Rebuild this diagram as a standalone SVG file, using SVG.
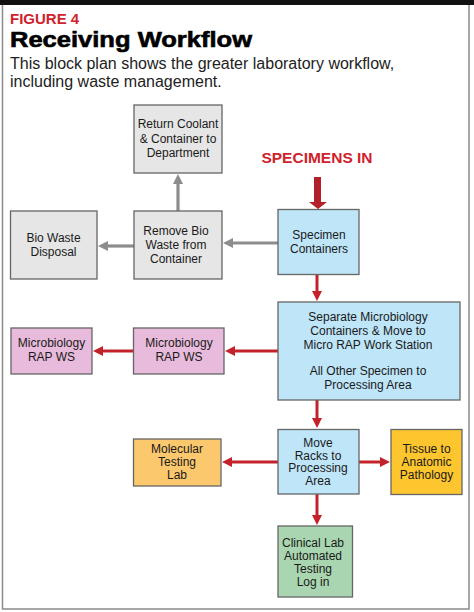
<svg xmlns="http://www.w3.org/2000/svg" width="474" height="612" viewBox="0 0 474 612">
<style>
.box{stroke:#666;stroke-width:1.3}
.gray{fill:#e6e6e6}
.blue{fill:#bee5f8}
.pink{fill:#e8badb}
.orange{fill:#fbc86e}
.yellow{fill:#fdc62e}
.green{fill:#a9d6b0}
.t{font-family:"Liberation Sans",Arial,sans-serif;font-size:12px;fill:#1a1a1a;text-anchor:middle}
.red{stroke:#c4222b;stroke-width:3;fill:none}
.gr{stroke:#8d8d8d;stroke-width:3.2;fill:none}
</style>
<defs>
<marker id="rh" viewBox="0 0 10 10" refX="1" refY="5" markerUnits="userSpaceOnUse" markerWidth="10" markerHeight="11" orient="auto">
<path d="M0,0 L10,5 L0,10 z" fill="#c4222b"/>
</marker>
<marker id="gh" viewBox="0 0 10 10" refX="1" refY="5" markerUnits="userSpaceOnUse" markerWidth="10" markerHeight="11" orient="auto">
<path d="M0,0 L10,5 L0,10 z" fill="#8d8d8d"/>
</marker>
</defs>
<rect x="0" y="0" width="474" height="612" fill="#fff"/>
<rect x="2.5" y="3" width="466.5" height="606" fill="none" stroke="#8a8a8a" stroke-width="1.5"/>
<rect x="0" y="0" width="474" height="5" fill="#111"/>
<text x="10" y="24" font-family="'Liberation Sans',Arial,sans-serif" font-weight="bold" font-size="15" fill="#d0222c">FIGURE 4</text>
<text x="10" y="47" font-family="'Liberation Sans',Arial,sans-serif" font-weight="bold" font-size="21.5" fill="#000" stroke="#000" stroke-width="0.6" textLength="242" lengthAdjust="spacingAndGlyphs">Receiving Workflow</text>
<text x="10" y="69" font-family="'Liberation Sans',Arial,sans-serif" font-size="16" fill="#222">This block plan shows the greater laboratory workflow,</text>
<text x="10" y="87" font-family="'Liberation Sans',Arial,sans-serif" font-size="16" fill="#222">including waste management.</text>
<text x="317" y="163" font-family="'Liberation Sans',Arial,sans-serif" font-weight="bold" font-size="15.5" fill="#d0222c" text-anchor="middle">SPECIMENS IN</text>

<g id="connectors">
<path d="M314,177 H321 V202 H327 L318,209 L309,202 H314 Z" fill="#b3202a"/>
<line class="gr" x1="178" y1="211" x2="178" y2="183" marker-end="url(#gh)"/>
<line class="gr" x1="278" y1="243" x2="232" y2="243" marker-end="url(#gh)"/>
<line class="gr" x1="134" y1="246" x2="107" y2="246" marker-end="url(#gh)"/>
<line class="red" x1="317" y1="274" x2="317" y2="292" marker-end="url(#rh)"/>
<line class="red" x1="278" y1="351" x2="234" y2="351" marker-end="url(#rh)"/>
<line class="red" x1="133" y1="351" x2="102" y2="351" marker-end="url(#rh)"/>
<line class="red" x1="317" y1="400" x2="317" y2="419" marker-end="url(#rh)"/>
<line class="red" x1="278" y1="462" x2="231" y2="462" marker-end="url(#rh)"/>
<line class="red" x1="359" y1="462" x2="381" y2="462" marker-end="url(#rh)"/>
<line class="red" x1="317" y1="494" x2="317" y2="516" marker-end="url(#rh)"/>
</g>

<g id="return-coolant">
<rect class="box gray" x="134" y="105" width="88" height="68"/>
<text class="t" x="178" y="128">Return Coolant</text>
<text class="t" x="178" y="142.5">&amp; Container to</text>
<text class="t" x="178" y="157">Department</text>
</g>
<g id="bio-waste-disposal">
<rect class="box gray" x="10.5" y="211" width="86.5" height="68"/>
<text class="t" x="53.5" y="242">Bio Waste</text>
<text class="t" x="53.5" y="256">Disposal</text>
</g>
<g id="remove-bio-waste">
<rect class="box gray" x="134" y="211" width="88" height="68"/>
<text class="t" x="176" y="235">Remove Bio</text>
<text class="t" x="176" y="249">Waste from</text>
<text class="t" x="176" y="263">Container</text>
</g>
<g id="specimen-containers">
<rect class="box blue" x="278" y="209.5" width="81" height="65"/>
<text class="t" x="319" y="239">Specimen</text>
<text class="t" x="319" y="253">Containers</text>
</g>
<g id="separate">
<rect class="box blue" x="278" y="302" width="182" height="98"/>
<text class="t" x="368" y="321">Separate Microbiology</text>
<text class="t" x="368" y="335">Containers &amp; Move to</text>
<text class="t" x="368" y="349">Micro RAP Work Station</text>
<text class="t" x="368" y="375">All Other Specimen to</text>
<text class="t" x="368" y="389">Processing Area</text>
</g>
<g id="micro-rap-ws-1">
<rect class="box pink" x="133.5" y="328" width="90.5" height="46"/>
<text class="t" x="179" y="347">Microbiology</text>
<text class="t" x="179" y="361">RAP WS</text>
</g>
<g id="micro-rap-ws-2">
<rect class="box pink" x="11" y="328" width="81" height="46"/>
<text class="t" x="51.5" y="347">Microbiology</text>
<text class="t" x="51.5" y="361">RAP WS</text>
</g>
<g id="move-racks">
<rect class="box blue" x="278" y="429.5" width="81" height="64.5"/>
<text class="t" x="318" y="447">Move</text>
<text class="t" x="318" y="459.5">Racks to</text>
<text class="t" x="318" y="472">Processing</text>
<text class="t" x="318" y="485">Area</text>
</g>
<g id="molecular">
<rect class="box orange" x="133.5" y="439" width="87.5" height="47"/>
<text class="t" x="177" y="453">Molecular</text>
<text class="t" x="177" y="466">Testing</text>
<text class="t" x="177" y="478.5">Lab</text>
</g>
<g id="tissue">
<rect class="box yellow" x="391" y="429.5" width="71" height="65"/>
<text class="t" x="426.5" y="453">Tissue to</text>
<text class="t" x="426.5" y="466">Anatomic</text>
<text class="t" x="426.5" y="479">Pathology</text>
</g>
<g id="clinical-lab">
<rect class="box green" x="278" y="526" width="74.5" height="71"/>
<text class="t" x="313" y="547">Clinical Lab</text>
<text class="t" x="313" y="560">Automated</text>
<text class="t" x="313" y="573">Testing</text>
<text class="t" x="313" y="586">Log in</text>
</g>
</svg>
